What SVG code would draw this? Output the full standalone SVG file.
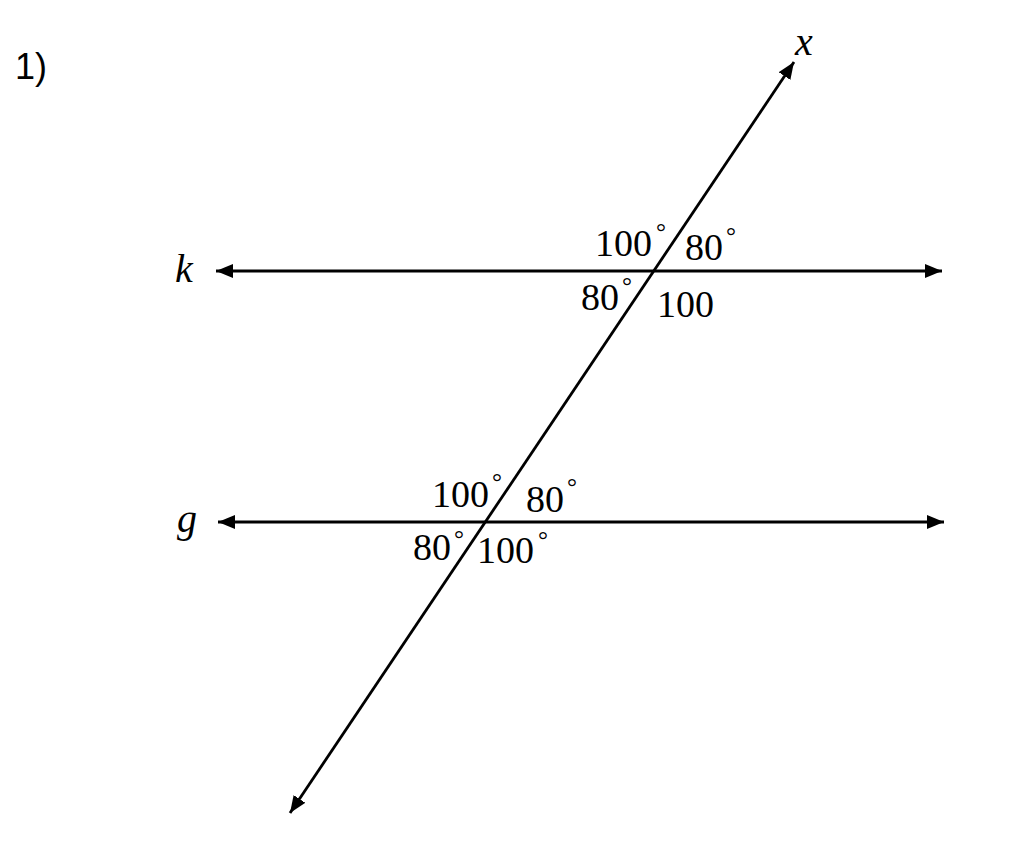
<svg xmlns="http://www.w3.org/2000/svg" width="1024" height="843" viewBox="0 0 1024 843">
<style>
.ln{stroke:#000;stroke-width:2.8;fill:none;marker-start:url(#ah);marker-end:url(#ah)}
.num{font-family:"Liberation Serif","DejaVu Serif",serif;font-size:38px;fill:#000}
.deg{font-size:25px}
.var{font-family:"Liberation Serif","DejaVu Serif",serif;font-style:italic;font-size:40px;fill:#000}
.title{font-family:"Liberation Sans","Open Sans",sans-serif;font-size:36px;fill:#000}
</style>
<defs>
<marker id="ah" markerUnits="userSpaceOnUse" markerWidth="18" markerHeight="14" refX="17" refY="7" orient="auto-start-reverse" viewBox="0 0 18 14">
<path d="M0,0 L17,7 L0,14 z" fill="#000"/>
</marker>
</defs>
<rect width="1024" height="843" fill="#fff"/>
<text id="title" class="title" x="15" y="79">1)</text>
<g id="connectors">
<line id="line-k" class="ln" x1="216" y1="271" x2="942" y2="271"/>
<line id="line-g" class="ln" x1="218" y1="522" x2="944" y2="522"/>
<line id="line-x" class="ln" x1="290" y1="813" x2="794" y2="62"/>
</g>
<g id="label-k"><text class="var" x="175" y="282">k</text></g>
<g id="label-g"><text class="var" x="177" y="532">g</text></g>
<g id="label-x"><text class="var" x="795" y="55">x</text></g>
<g id="angles-k">
<text class="num" x="595" y="256">100<tspan class="deg" x="656" y="240">°</tspan></text>
<text class="num" x="685" y="260">80<tspan class="deg" x="726" y="244">°</tspan></text>
<text class="num" x="581" y="310">80<tspan class="deg" x="622" y="294">°</tspan></text>
<text class="num" x="657" y="317">100</text>
</g>
<g id="angles-g">
<text class="num" x="432" y="507">100<tspan class="deg" x="492" y="490">°</tspan></text>
<text class="num" x="526" y="512">80<tspan class="deg" x="567" y="495">°</tspan></text>
<text class="num" x="413" y="560">80<tspan class="deg" x="454" y="547">°</tspan></text>
<text class="num" x="477" y="563">100<tspan class="deg" x="538" y="548">°</tspan></text>
</g>
</svg>
